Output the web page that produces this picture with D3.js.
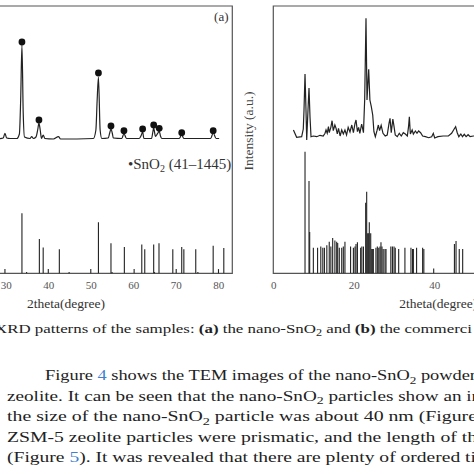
<!DOCTYPE html>
<html>
<head>
<meta charset="utf-8">
<script src="https://cdn.jsdelivr.net/npm/d3@7"></script>
<style>
  body { margin: 0; background: #fff; }
  svg { display: block; }
</style>
</head>
<body>
<svg></svg>
<script>
const width = 474;
const height = 474;

// panel (a): nano-SnO2, measured pattern [2theta, intensity a.u.]
const aPattern = [
  [28.0, 1], [29.4, 2], [29.8, 6.7], [30.2, 2], [31.0, 1.5], [32.6, 1.5], [33.2, 6], [33.5, 40],
  [33.8, 95], [34.1, 27], [34.4, 3], [35.7, 1.5], [36.1, 3.5], [36.5, 1.5], [37.1, 3], [37.5, 10],
  [37.8, 17], [38.1, 10], [38.4, 1.5], [38.8, 5], [39.2, 1.5], [41.2, 1], [42.4, 3.3], [42.9, 1],
  [50.6, 1.5], [51.2, 10], [51.5, 40], [51.8, 63], [52.2, 10], [52.6, 1.5], [54.1, 2], [54.45, 7],
  [54.75, 11], [55.05, 7], [55.3, 2], [57.3, 1.5], [57.8, 6.5], [58.4, 1.5], [61.4, 1.5], [61.9, 5],
  [62.2, 8], [62.5, 1.5], [64.3, 1.5], [64.6, 8], [64.8, 12], [65.0, 8], [65.2, 3.5], [65.5, 5],
  [65.8, 7], [66.1, 9], [66.4, 4], [66.7, 1.5], [70.8, 1.5], [71.4, 5], [71.9, 1.5], [78.2, 1.5],
  [78.8, 7], [79.5, 1.5], [80.2, 1.5]
];
// peaks marked as SnO2
const aMarkers = [
  [33.8, 98], [37.8, 20], [51.8, 67], [54.75, 14], [57.8, 9.3],
  [62.2, 11], [64.8, 15], [66.1, 11.7], [71.4, 7.3], [78.8, 9.3]
];
// reference card 41-1445 [2theta, relative intensity %]
const aSticks = [
  [29.8, 7], [33.8, 100], [34.9, 2], [37.9, 57], [38.8, 43], [40.0, 7], [42.6, 40], [44.9, 2],
  [50.0, 7], [51.8, 85], [54.75, 50], [55.0, 2], [57.9, 44], [60.2, 7], [62.0, 48], [62.7, 40],
  [64.8, 48], [65.0, 2], [66.05, 50], [69.3, 40], [70.1, 7], [71.4, 44], [71.9, 40], [74.7, 40],
  [75.2, 2], [78.8, 46], [80.05, 7], [81.3, 42]
];
// panel (b): commercial ZSM-5, measured pattern
const bPattern = [
  [5.0, 11], [5.8, 3.7], [7.05, 4.3], [7.45, 12], [7.63, 31], [7.88, 67], [8.12, 31], [8.3, 1],
  [8.62, 31], [8.87, 53], [9.12, 24], [9.37, 4.3], [9.95, 5], [10.8, 4.3], [11.6, 5.7], [12.4, 5],
  [12.85, 7.7], [13.1, 11], [13.4, 7.7], [13.7, 14.3], [13.9, 8.3], [14.3, 13.7], [14.6, 20.3],
  [14.9, 10.3], [15.3, 16], [15.6, 12.7], [15.9, 7], [16.2, 12.7], [16.6, 5], [17.0, 11],
  [17.4, 7], [17.8, 11], [18.2, 6], [18.6, 13.7], [19.05, 9], [19.5, 16], [19.9, 8.3],
  [20.3, 17.7], [20.55, 21], [20.9, 9.3], [21.2, 13.7], [21.5, 7.7], [21.95, 17], [22.4, 8.3],
  [22.7, 41], [23.03, 122.7], [23.28, 41], [23.7, 71.7], [24.0, 41], [24.35, 34.3], [24.7, 26],
  [25.0, 9.3], [25.35, 4.3], [25.76, 10.3], [26.1, 16], [26.4, 10.3], [26.8, 15.7], [27.25, 7.7],
  [27.8, 5], [28.3, 6], [28.75, 17.7], [29.0, 22.7], [29.3, 8.3], [29.7, 22], [30.0, 14.3],
  [30.3, 6], [30.8, 4.3], [31.3, 7.7], [31.8, 5], [32.3, 8.3], [32.8, 7], [33.3, 5], [33.6, 14.3],
  [33.8, 24.3], [34.05, 7], [34.5, 11], [34.8, 7], [35.3, 10], [35.7, 7.7], [36.1, 10], [36.6, 8.3],
  [37.1, 5], [37.8, 4.3], [38.6, 3.3], [39.35, 4.3], [39.75, 7.7], [40.1, 3], [40.9, 4.3],
  [42.2, 5], [43.5, 5], [44.3, 7.7], [44.9, 11.7], [45.3, 14.3], [45.7, 8.3], [46.1, 4.3],
  [46.6, 7], [47.0, 4.3], [47.45, 6.7], [47.9, 4.3], [48.4, 6.3], [48.9, 4.3], [49.7, 5],
  [51.0, 5], [53.0, 4]
];
// panel (b): reference sticks
const bSticks = [
  [7.88, 100], [8.87, 76], [9.04, 34], [9.95, 21], [11.0, 21], [11.8, 22], [12.3, 21], [12.7, 21],
  [13.3, 23], [13.9, 26], [14.3, 22], [14.75, 29], [15.3, 27], [15.75, 26], [16.0, 25], [16.4, 21],
  [17.0, 21], [17.4, 22], [17.8, 26], [19.2, 22], [19.9, 21], [20.3, 22], [20.55, 24], [20.9, 25.5],
  [21.7, 21], [22.0, 22], [22.4, 22], [22.95, 58], [23.2, 67], [23.45, 33], [23.7, 33], [23.85, 42],
  [24.2, 33], [24.45, 20], [24.7, 20], [24.85, 20], [25.5, 21], [25.85, 22], [26.2, 21], [26.5, 22],
  [26.75, 25.5], [27.0, 22], [27.3, 20], [27.75, 20], [28.0, 20], [29.2, 22], [29.6, 22], [30.0, 22],
  [30.3, 21], [31.15, 20], [32.7, 21], [34.2, 21], [34.6, 20], [34.8, 20], [35.6, 21], [37.1, 21],
  [37.4, 20], [39.85, 4], [45.0, 24], [45.4, 26.5], [46.2, 20], [47.05, 20]
];
// tick labels that fall inside the visible crop
const aTicks = [30, 40, 50, 60, 70, 80];
const bTicks = [0, 20, 40];

const caption = [["XRD patterns of the samples: ", ""], ["(a)", "b"], [" the nano-SnO", ""], ["2", "sub"],
  [" and ", ""], ["(b)", "b"], [" the commerci", ""]];
const body = [
  [["Figure ", ""], ["4", "link"], [" shows the TEM images of the nano-SnO", ""], ["2", "sub"], [" powder", ""]],
  [["zeolite. It can be seen that the nano-SnO", ""], ["2", "sub"], [" particles show an ir", ""]],
  [["the size of the nano-SnO", ""], ["2", "sub"], [" particle was about 40 nm (Figure", ""]],
  [["ZSM-5 zeolite particles were prismatic, and the length of th", ""]],
  [["(Figure ", ""], ["5", "link"], ["). It was revealed that there are plenty of ordered ti", ""]]
];

const serif = "'Liberation Serif', 'Times New Roman', serif";
const ink = "#222";

const svg = d3.select('svg').attr('width', width).attr('height', height);
svg.append('rect').attr('width', width).attr('height', height).attr('fill', '#fff');

const axisY = 273.3, frameTop = 6;

// ---- panel a
const xa = d3.scaleLinear().domain([5, 83.3]).range([-100.45, 232.3]);
const yaLine = d3.scaleLinear().domain([0, 100]).range([140, 40]);
const yaStick = d3.scaleLinear().domain([0, 100]).range([axisY, axisY - 60]);

// ---- panel b
const xb = d3.scaleLinear().domain([0, 82]).range([273.3, 273.3 + 82 * 4.025]);
const ybLine = d3.scaleLinear().domain([0, 123]).range([141, 18]);
const ybStick = d3.scaleLinear().domain([0, 100]).range([axisY, axisY - 121.6]);

function drawPanel(x, yLine, yStick, pattern, sticks, ticks, curve) {
  const g = svg.append('g');
  const [x0, x1] = x.range();
  g.append('path')
    .attr('d', `M${x0},${frameTop}H${x1}V${axisY}H${x0}Z`)
    .attr('fill', 'none').attr('stroke', '#555').attr('stroke-width', 1.2);

  g.selectAll('.stick').data(sticks).enter().append('line')
    .attr('x1', d => x(d[0])).attr('x2', d => x(d[0]))
    .attr('y1', axisY).attr('y2', d => yStick(d[1]))
    .attr('stroke', ink).attr('stroke-width', 1.1);

  const line = d3.line().x(d => x(d[0])).y(d => yLine(d[1])).curve(curve);
  g.append('path').datum(pattern).attr('d', line)
    .attr('fill', 'none').attr('stroke', ink).attr('stroke-width', 1.2);

  const ax = g.append('g').attr('transform', `translate(0,${axisY})`)
    .call(d3.axisBottom(x).tickValues(ticks).tickSize(0).tickPadding(8).tickFormat(d3.format('d')));
  ax.select('.domain').remove();
  ax.selectAll('text').style('font-family', serif).style('font-size', '11px').attr('fill', '#555');

  g.append('text')
    .attr('x', (x0 + x1) / 2).attr('y', 307.5)
    .attr('text-anchor', 'middle')
    .style('font-family', serif).style('font-size', '13.5px').attr('fill', '#333')
    .text('2theta(degree)');
  return g;
}

const ga = drawPanel(xa, yaLine, yaStick, aPattern, aSticks, aTicks, d3.curveMonotoneX);
ga.selectAll('.dot').data(aMarkers).enter().append('circle')
  .attr('cx', d => xa(d[0])).attr('cy', d => yaLine(d[1]))
  .attr('r', 3.4).attr('fill', '#111');
ga.append('text').attr('x', 228.5).attr('y', 21).attr('text-anchor', 'end')
  .style('font-family', serif).style('font-size', '13px').attr('fill', '#333').text('(a)');

const leg = ga.append('text').attr('x', 128).attr('y', 168.5)
  .style('font-family', serif).style('font-size', '15px').attr('fill', '#333');
leg.append('tspan').text('•');
leg.append('tspan').text('SnO');
leg.append('tspan').attr('dy', 3).style('font-size', '10px').text('2');
leg.append('tspan').attr('dy', -3).text(' (41\u20131445)');

const gb = drawPanel(xb, ybLine, ybStick, bPattern, bSticks, bTicks, d3.curveLinear);
gb.append('text')
  .attr('transform', 'translate(253,131) rotate(-90)')
  .attr('text-anchor', 'middle')
  .style('font-family', serif).style('font-size', '13.5px').attr('fill', '#444')
  .text('Intensity (a.u.)');

// ---- caption and body text
function drawLine(parts, x, y, size, len) {
  const t = svg.append('text').attr('x', x).attr('y', y)
    .style('font-family', serif).style('font-size', size + 'px').attr('fill', ink)
    .attr('textLength', len).attr('lengthAdjust', 'spacingAndGlyphs');
  let shifted = false;
  parts.forEach(([s, kind]) => {
    const sp = t.append('tspan').text(s);
    if (kind === 'sub') {
      sp.attr('dy', size * 0.25).style('font-size', (size * 0.72) + 'px');
      shifted = true;
    } else {
      if (shifted) { sp.attr('dy', -size * 0.25); shifted = false; }
      if (kind === 'b') sp.style('font-weight', 'bold');
      if (kind === 'link') sp.attr('fill', '#3f7fd0');
    }
  });
}

drawLine(caption, -5, 333, 13.5, 477);
const bodyX = [45, 7, 7, 7, 7];
const bodyY = [380, 400.5, 421, 441.5, 462];
const bodyEnd = [476, 478, 477, 477, 476];
body.forEach((parts, i) => drawLine(parts, bodyX[i], bodyY[i], 14.5, bodyEnd[i] - bodyX[i]));
</script>
</body>
</html>
